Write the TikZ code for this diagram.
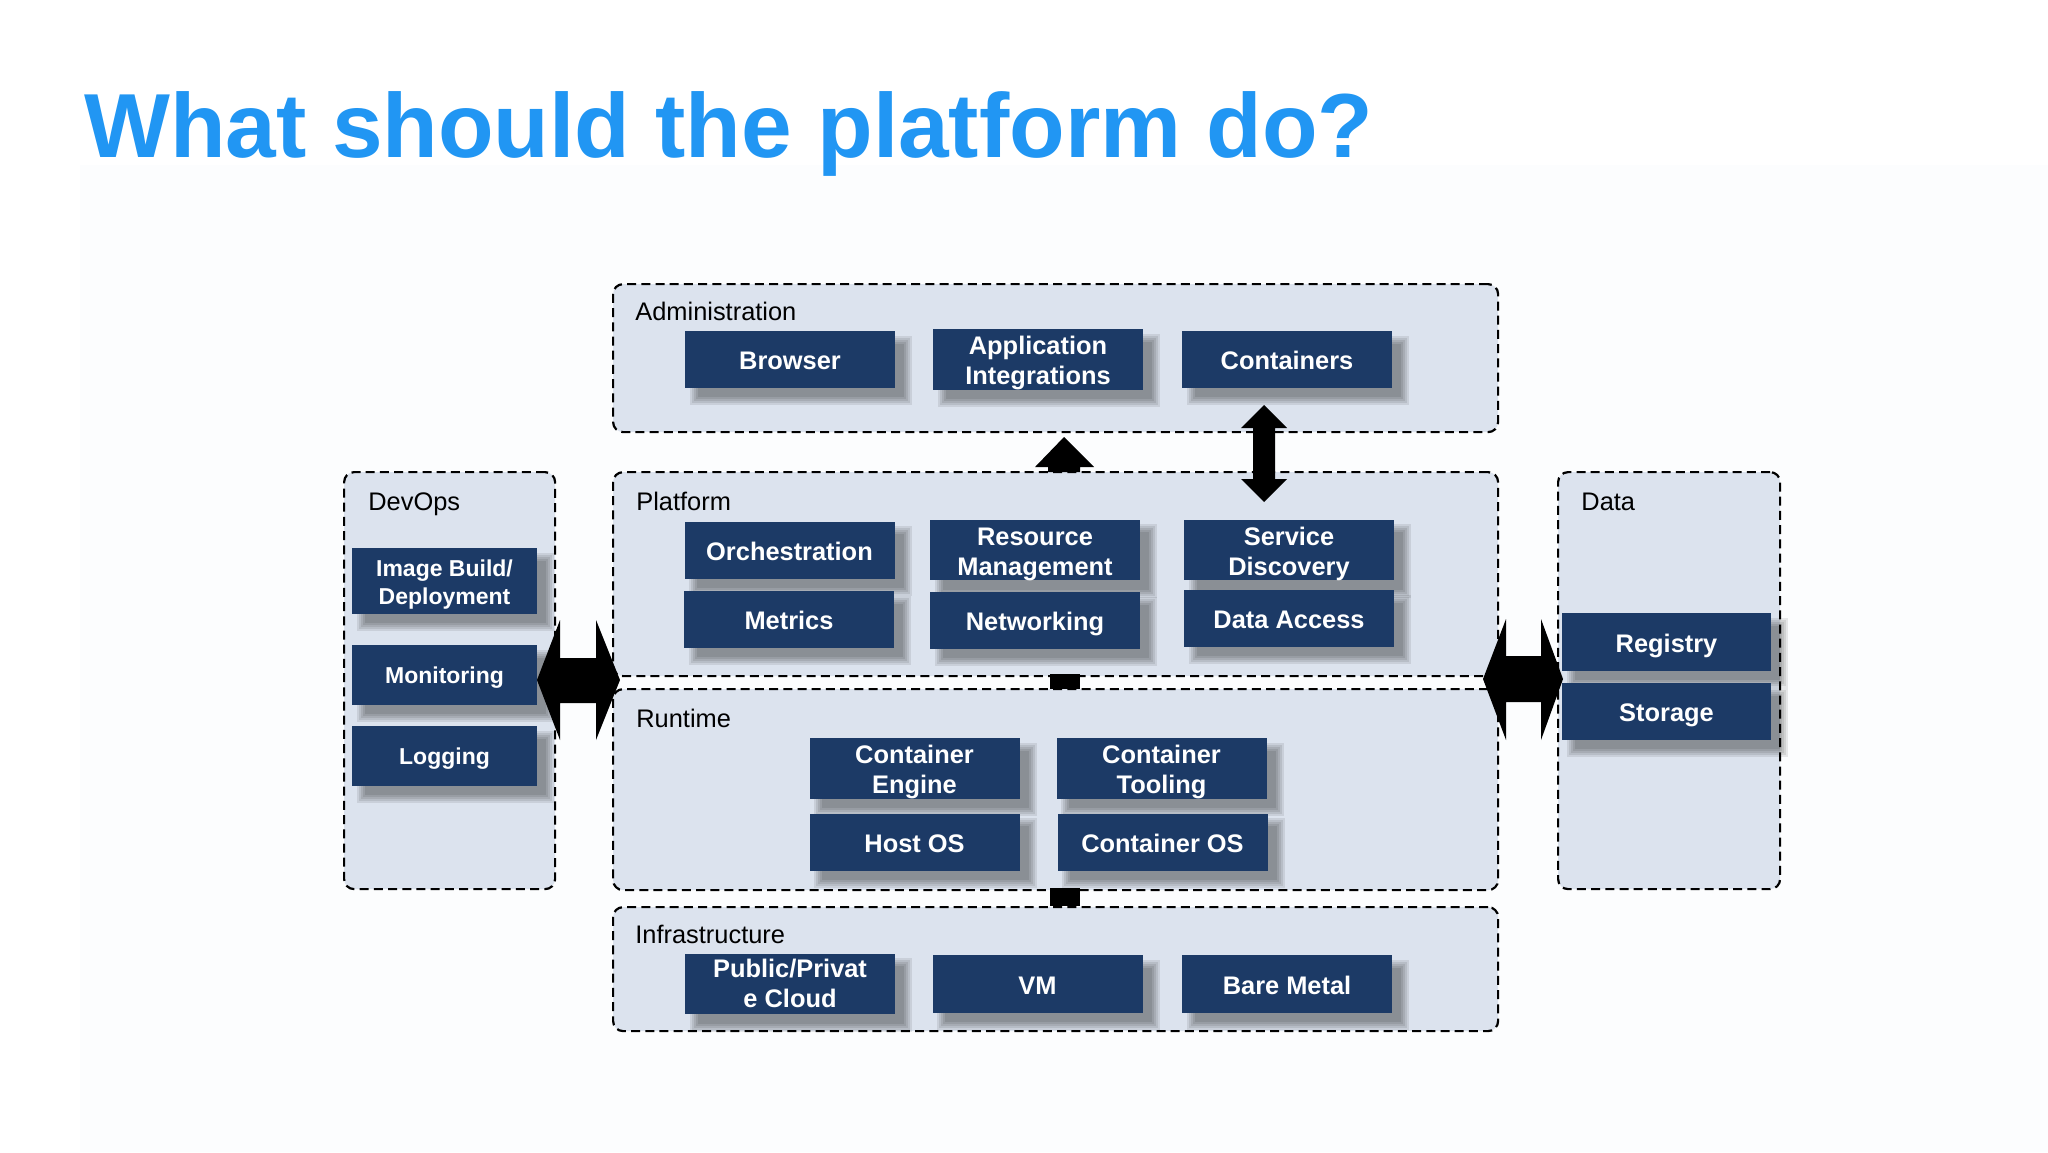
\documentclass[tikz,border=0pt]{standalone}
\usepackage{fontspec}
\setmainfont{Liberation Sans}
\usetikzlibrary{calc}
\definecolor{titleblue}{HTML}{2196F3}
\definecolor{navy}{HTML}{1C3A66}
\definecolor{grpfill}{HTML}{DCE3EE}
\definecolor{pagebg}{HTML}{FCFDFE}
\pgfdeclarelayer{bg}
\pgfdeclarelayer{sh}
\pgfsetlayers{bg,sh,main}
\newcommand\lowr[2][2.1pt]{\raisebox{-#1}[\height][\depth]{\begin{tabular}{@{}c@{}}#2\end{tabular}}}
\begin{document}
\begin{tikzpicture}[x=0.5pt,y=-0.5pt,
  grp/.style={draw=black, fill=grpfill, line width=1.1pt, dash pattern=on 4.5pt off 2.6pt, rounded corners=5pt, inner sep=0pt, anchor=north west},
  glabel/.style={anchor=base west, inner sep=0pt, font=\fontsize{12.7}{15}\selectfont},
  nbox/.style={fill=navy, text=white, inner sep=0pt, minimum width=105pt, minimum height=28.5pt, align=center, font=\bfseries\fontsize{12.7}{15.2}\selectfont},
  dbox/.style={nbox, minimum width=92.5pt, font=\bfseries\fontsize{11.5}{13.6}\selectfont},
  blk/.style={fill=black, draw=none}]
\useasboundingbox (0,0) rectangle (2048,1152);

% title
\node[anchor=base west, inner sep=0pt, text=titleblue, font=\bfseries\fontsize{45.5}{50}\selectfont] (title) at (84,157) {What should the platform do?};

% group boxes
\begin{pgfonlayer}{bg}
\fill[white] (0,0) rectangle (2048,1152);
\fill[pagebg] (80,165) rectangle (2048,1152);
\node[grp, minimum width=442.5pt, minimum height=74pt] (admin) at (612,283) {};
\node[grp, minimum width=442.5pt, minimum height=102pt] (platform) at (612,471) {};
\node[grp, minimum width=442.5pt, minimum height=100.5pt] (runtime) at (612,688) {};
\node[grp, minimum width=442.5pt, minimum height=62pt] (infra) at (612,906) {};
\node[grp, minimum width=105.5pt, minimum height=208.5pt] (devops) at (343,471) {};
\node[grp, minimum width=111pt, minimum height=208.5pt] (data) at (1557,471) {};
\end{pgfonlayer}

% group labels
\node[glabel] (ladmin) at (635,320) {Administration};
\node[glabel] (lplat) at (636,510) {Platform};
\node[glabel] (lrun) at (636,727) {Runtime};
\node[glabel] (linfra) at (635,943) {Infrastructure};
\node[glabel] (ldev) at (368,510) {DevOps};
\node[glabel] (ldata) at (1581,510) {Data};

% administration
\node[nbox] (browser) at (790,359.5) {\lowr{Browser}};
\node[nbox] (appint) at (1038,359.5) {\lowr{Application\\Integrations}};
\node[nbox] (containers) at (1287,359.5) {\lowr{Containers}};
% platform
\node[nbox] (orch) at (789.5,550) {\lowr{Orchestration}};
\node[nbox] (resmgmt) at (1035,550) {\lowr{Resource\\Management}};
\node[nbox] (servdisc) at (1289,550) {\lowr{Service\\Discovery}};
\node[nbox] (metrics) at (789,619.5) {\lowr{Metrics}};
\node[nbox] (netw) at (1035,620.5) {\lowr{Networking}};
\node[nbox] (dataacc) at (1289,618.5) {\lowr{Data Access}};
% runtime
\node[nbox] (ceng) at (914.5,768.5) {\lowr{Container\\Engine}};
\node[nbox] (ctool) at (1161.5,768.5) {\lowr{Container\\Tooling}};
\node[nbox] (hostos) at (914.5,842) {\lowr{Host OS}};
\node[nbox] (cos) at (1162.5,842) {\lowr{Container OS}};
% infrastructure
\node[nbox, minimum height=29pt] (cloud) at (790,984) {\lowr[1.2pt]{Public/Privat\\e Cloud}};
\node[nbox, minimum height=29pt] (vm) at (1037.5,984) {\lowr{VM}};
\node[nbox, minimum height=29pt] (bare) at (1287,984) {\lowr{Bare Metal}};
% devops
\node[dbox, minimum height=33pt] (imgbuild) at (444.5,581) {\lowr[2pt]{Image Build/\\Deployment}};
\node[dbox, minimum height=30pt] (monit) at (444.5,675) {\lowr[1.6pt]{Monitoring}};
\node[dbox, minimum height=30pt] (logg) at (444.5,756) {\lowr[1.6pt]{Logging}};
% data
\node[nbox, minimum width=104.5pt, minimum height=29pt] (registry) at (1666.5,642) {\lowr{Registry}};
\node[nbox, minimum width=104.5pt, minimum height=28.5pt] (storage) at (1666.5,711.5) {\lowr{Storage}};

% shadows
\begin{pgfonlayer}{sh}
\foreach \n in {browser,appint,containers,orch,resmgmt,servdisc,metrics,netw,dataacc,ceng,ctool,hostos,cos,cloud,vm,bare,imgbuild,monit,logg,registry,storage}{
  \foreach \e in {6,4,2,0,-2}{
    \fill[black, opacity=0.085] ($(\n.north west)+(11-\e,11-\e)$) rectangle ($(\n.south east)+(11+\e,11+\e)$);
  }
}
\end{pgfonlayer}

% block arrows and connectors
\fill[blk] (1064,437) -- (1094,467) -- (1080,467) -- (1080,472) -- (1048,472) -- (1048,467) -- (1035,467) -- cycle;
\fill[blk] (1264,405) -- (1287,428) -- (1275,428) -- (1275,479) -- (1287,479) -- (1264,502) -- (1241,479) -- (1253,479) -- (1253,428) -- (1241,428) -- cycle;
\fill[blk] (1050,674) rectangle (1080,689);
\fill[blk] (1050,888) rectangle (1080,906);
\fill[blk] (537,680) -- (560,620) -- (560,658) -- (596,658) -- (596,620) -- (620,680) -- (596,740) -- (596,703) -- (560,703) -- (560,740) -- cycle;
\fill[blk] (1483,679) -- (1506,619) -- (1506,656) -- (1541,656) -- (1541,619) -- (1563,679) -- (1541,740) -- (1541,702) -- (1506,702) -- (1506,740) -- cycle;
\end{tikzpicture}
\end{document}
